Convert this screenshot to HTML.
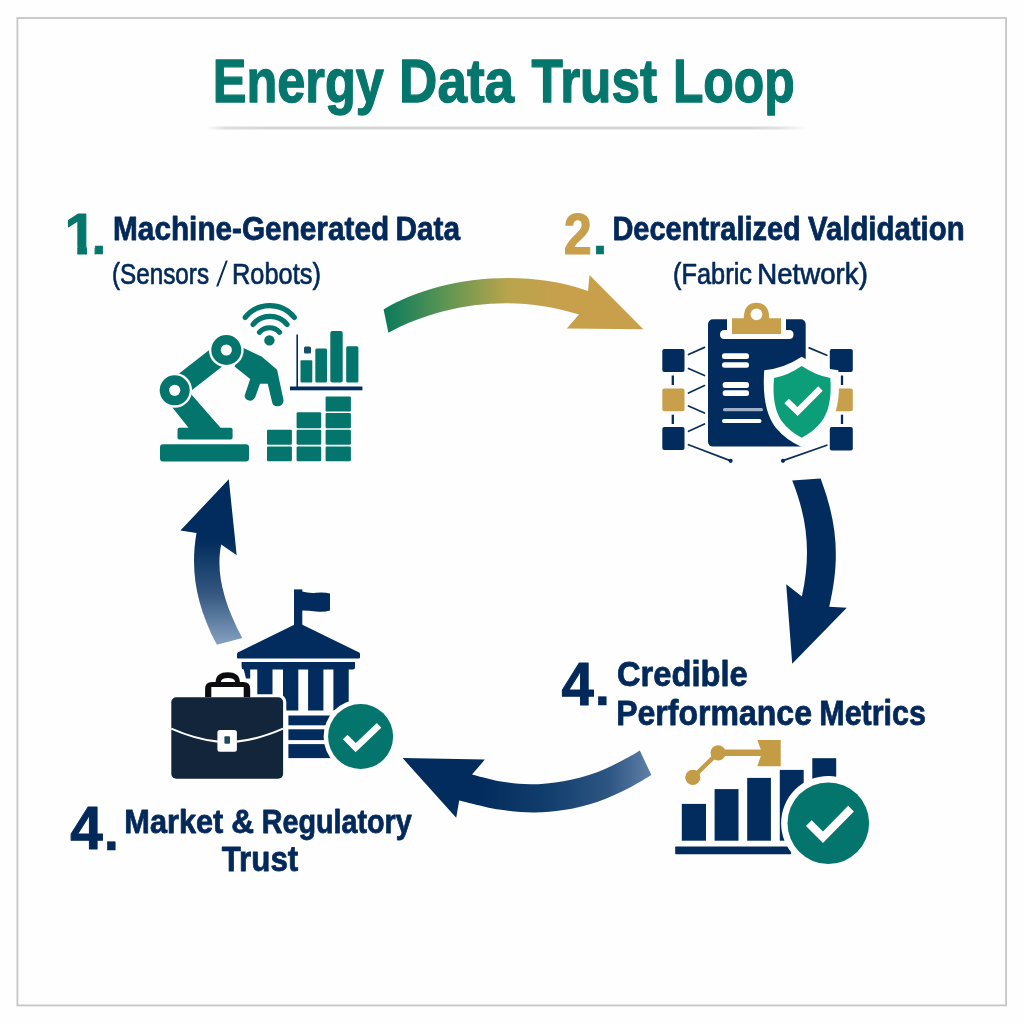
<!DOCTYPE html>
<html lang="en">
<head>
<meta charset="utf-8">
<title>Energy Data Trust Loop</title>
<style>
html,body{margin:0;padding:0;background:#fefefe;}
body{width:1024px;height:1024px;overflow:hidden;}
svg{display:block;will-change:transform;}
text{font-family:"Liberation Sans",sans-serif;}
text{stroke-linejoin:round;}
.b{font-weight:bold;stroke-width:0.8px;}
.r{stroke-width:0.7px;}
.navy{fill:#03295a;stroke:#03295a;}
.teal{fill:#05766c;stroke:#05766c;}
.gold{fill:#c8a04c;stroke:#c8a04c;}
.num{stroke-width:1.1px;}
.dot{stroke-width:0.5px;}
#title{stroke-width:1.3px;}
</style>
</head>
<body>
<svg width="1024" height="1024" viewBox="0 0 1024 1024">
<defs>
<linearGradient id="gUnder" x1="0" y1="0" x2="1" y2="0">
<stop offset="0" stop-color="#d6d6d6" stop-opacity="0"/>
<stop offset="0.03" stop-color="#d6d6d6" stop-opacity="0.8"/>
<stop offset="0.1" stop-color="#d6d6d6" stop-opacity="1"/>
<stop offset="0.9" stop-color="#d6d6d6" stop-opacity="1"/>
<stop offset="0.95" stop-color="#d6d6d6" stop-opacity="0.7"/>
<stop offset="1" stop-color="#d6d6d6" stop-opacity="0"/>
</linearGradient>
<linearGradient id="gA1" gradientUnits="userSpaceOnUse" x1="384" y1="0" x2="560" y2="0">
<stop offset="0" stop-color="#0a7a5c"/>
<stop offset="0.35" stop-color="#5d9553"/>
<stop offset="0.7" stop-color="#b8a44c"/>
<stop offset="1" stop-color="#c8a04c"/>
</linearGradient>
<linearGradient id="gA3" gradientUnits="userSpaceOnUse" x1="480" y1="0" x2="652" y2="0">
<stop offset="0" stop-color="#022c5d"/>
<stop offset="0.4" stop-color="#123e6d"/>
<stop offset="0.75" stop-color="#2e5683"/>
<stop offset="1" stop-color="#5f81a8"/>
</linearGradient>
<linearGradient id="gA4" gradientUnits="userSpaceOnUse" x1="0" y1="540" x2="0" y2="645">
<stop offset="0" stop-color="#022c5d"/>
<stop offset="0.5" stop-color="#33567f"/>
<stop offset="1" stop-color="#86a2c2"/>
</linearGradient>
</defs>

<!-- background + frame -->
<rect x="0" y="0" width="1024" height="1024" fill="#fefefe"/>
<rect x="17.4" y="18" width="988.65" height="987.4" fill="none" stroke="#c6c6c6" stroke-width="1.8"/>

<!-- title -->
<text id="title" class="b teal" y="102.2" font-size="61"><tspan x="212.74" textLength="171.06" lengthAdjust="spacingAndGlyphs">Energy</tspan> <tspan x="399.07" textLength="115.04" lengthAdjust="spacingAndGlyphs">Data</tspan> <tspan x="531.62" textLength="125.47" lengthAdjust="spacingAndGlyphs">Trust</tspan> <tspan x="672.88" textLength="121.85" lengthAdjust="spacingAndGlyphs">Loop</tspan></text>
<rect x="206.5" y="126.6" width="602" height="2.9" rx="1.4" fill="url(#gUnder)"/>

<!-- ARROWS -->
<g id="arrows">
<path id="a1" fill="url(#gA1)" d="M383.6 309.5 C430 281 515 265.5 588 291 L589.5 274.9 L643.3 329.3 L566.8 328.4 L579 314.6 C512 292.5 440 304.5 388.4 332.7 Z"/>
<path id="a2" fill="#022c5d" d="M792.2 480.4 L820.6 478.5 C838 525 840 560 829.2 606.7 L846.8 607.8 L792.2 663.7 L786.2 584.2 L801.9 596.4 C811 555 808 520 792.2 480.4 Z"/>
<path id="a3" fill="url(#gA3)" d="M639.8 750.6 C637.8 751.8 635.1 753.9 628.0 757.5 C620.9 761.1 607.8 768.2 597.1 772.2 C586.4 776.2 574.8 779.2 563.6 781.2 C552.4 783.2 540.8 784.3 530.0 784.3 C519.2 784.3 508.8 782.8 499.1 781.2 C489.4 779.6 476.5 775.7 472.0 774.6 L484.9 759.5 L402.6 758.1 L456.2 817.8 L459.2 800.4 C465.9 801.9 486.9 807.6 499.1 809.6 C511.3 811.6 521.9 812.3 532.6 812.4 C543.4 812.5 552.9 811.9 563.6 810.1 C574.4 808.4 586.4 805.5 597.1 801.9 C607.8 798.3 619.0 793.0 628.0 788.5 C637.0 784.0 647.5 777.2 651.4 775.0 Z"/>
<path id="a4" fill="url(#gA4)" d="M216.9 644.8 L242.3 637.9 C222 600 216 570 221.2 544.4 L236.7 555.2 L228.8 479.3 L180.4 530.5 L196.5 533 C190 570 196 605 216.9 644.8 Z"/>
</g>

<!-- LABELS -->
<g id="labels">
<clipPath id="c1"><path d="M55 200 H87 V262 H77.3 V246.4 H55 Z M94.7 236 H110 V262 H94.7 Z"/></clipPath>
<text class="b teal" clip-path="url(#c1)"><tspan class="num" x="64.6" y="254.1" font-size="57.5">1</tspan><tspan class="dot" x="91.5" y="254.4" font-size="54">.</tspan></text>
<text class="b navy" y="239.9" font-size="33.5"><tspan x="113.1" textLength="276" lengthAdjust="spacingAndGlyphs">Machine-Generated</tspan> <tspan x="395.4" textLength="64.58" lengthAdjust="spacingAndGlyphs">Data</tspan></text>
<text class="r navy" y="283.5" font-size="29"><tspan x="111.99" textLength="97.04" lengthAdjust="spacingAndGlyphs">(Sensors</tspan> <tspan x="214.9" y="286.9" font-size="37.5" stroke="#fefefe" stroke-width="1.2" textLength="13.9" lengthAdjust="spacingAndGlyphs">/</tspan> <tspan x="232.06" y="283.5" textLength="88.86" lengthAdjust="spacingAndGlyphs">Robots)</tspan></text>

<text class="b"><tspan class="gold num" x="563.8" y="254.1" font-size="57" textLength="28" lengthAdjust="spacingAndGlyphs">2</tspan><tspan class="teal dot" x="592.5" y="254.4" font-size="54">.</tspan></text>
<text class="b navy" y="239.9" font-size="33.5"><tspan x="612.45" textLength="188.36" lengthAdjust="spacingAndGlyphs">Decentralized</tspan> <tspan x="807.98" textLength="156.62" lengthAdjust="spacingAndGlyphs">Valdidation</tspan></text>
<text class="r navy" y="283.5" font-size="29"><tspan x="673.02" textLength="78.97" lengthAdjust="spacingAndGlyphs">(Fabric</tspan> <tspan x="757.27" textLength="110.57" lengthAdjust="spacingAndGlyphs">Network)</tspan></text>

<text class="b navy"><tspan class="num" x="561.4" y="705" font-size="62" textLength="32.3" lengthAdjust="spacingAndGlyphs">4</tspan><tspan class="dot" x="594.4" y="705.3" font-size="56">.</tspan></text>
<text class="b navy" y="686.3" font-size="35.8"><tspan x="617.03" textLength="130.68" lengthAdjust="spacingAndGlyphs">Credible</tspan></text>
<text class="b navy" y="725.3" font-size="35.8"><tspan x="616.16" textLength="195.85" lengthAdjust="spacingAndGlyphs">Performance</tspan> <tspan x="819.27" textLength="106.68" lengthAdjust="spacingAndGlyphs">Metrics</tspan></text>

<text class="b navy"><tspan class="num" x="70.3" y="849.2" font-size="62" textLength="32.5" lengthAdjust="spacingAndGlyphs">4</tspan><tspan class="dot" x="103.6" y="849.5" font-size="56">.</tspan></text>
<text class="b navy" y="832.8" font-size="33.5"><tspan x="124.34" textLength="98.91" lengthAdjust="spacingAndGlyphs">Market</tspan> <tspan x="231.19" textLength="22.8" lengthAdjust="spacingAndGlyphs">&amp;</tspan> <tspan x="261.67" textLength="150.12" lengthAdjust="spacingAndGlyphs">Regulatory</tspan></text>
<text class="b navy" y="871.3" font-size="35"><tspan x="221.75" textLength="76.43" lengthAdjust="spacingAndGlyphs">Trust</tspan></text>
</g>

<!-- ICONS -->
<g id="icon1" fill="#04756c">
<!-- robot arm -->
<rect x="160" y="444.2" width="89" height="17.4" rx="3"/>
<path d="M177.5 429.8 q0 -2 2 -2 h9 L172 407 L191 394 L220.5 427.8 h10.1 q2 0 2 2 v7.7 q0 2 -2 2 h-51.1 q-2 0 -2 -2 z"/>
<path d="M168.2 382 L219.8 341.7 L232.8 358.3 L181.2 398.6 Z"/>
<path d="M243.1 347.8 L261.9 356.8 L277.1 369.7 L283.6 400.5 Q283 406.5 277 406.3 Q272.8 406 272.2 402.5 L267.7 383.8 L260 383.8 L255.3 397 Q252.5 402 248 400.2 Q243.8 398.5 245 394.5 L250.2 379.1 L234.5 366.5 Z"/>
<circle cx="174.7" cy="390.3" r="17.4" fill="#fefefe"/>
<circle cx="174.7" cy="390.3" r="15"/>
<circle cx="174.7" cy="390.3" r="5.6" fill="#fefefe"/>
<circle cx="226.3" cy="350" r="17.4" fill="#fefefe"/>
<circle cx="226.3" cy="350" r="15"/>
<circle cx="226.3" cy="350" r="5.6" fill="#fefefe"/>
<!-- wifi -->
<circle cx="269.4" cy="340.4" r="5.2"/>
<g fill="none" stroke="#04756c" stroke-width="5.2" stroke-linecap="round">
<path d="M259.5 332.2 A13.5 13.5 0 0 1 279.5 332.2"/>
<path d="M253.1 324.4 A22 22 0 0 1 287 324.4"/>
<path d="M245.2 317.4 A31.5 31.5 0 0 1 294.3 317.4"/>
</g>
<!-- bar chart -->
<rect x="300.5" y="360.3" width="11.8" height="22.3" rx="1"/>
<rect x="304" y="346.5" width="7" height="7" rx="1.5" fill="#14506a"/>
<rect x="315.3" y="348.6" width="11.7" height="34" rx="1.5"/>
<rect x="330.3" y="331" width="12.4" height="51.6" rx="2"/>
<rect x="346.2" y="346.2" width="12.2" height="36.4" rx="1.5"/>
<rect x="296.4" y="334.5" width="1.6" height="53" fill="#022c5d"/>
<rect x="290" y="386.5" width="72.4" height="3.8" fill="#022c5d"/>
<!-- stacked blocks -->
<rect x="267" y="429.7" width="24.9" height="15" rx="1.2"/>
<rect x="267" y="446.6" width="24.9" height="14.6" rx="1.2"/>
<rect x="296.6" y="412.3" width="24.6" height="16" rx="1.2"/>
<rect x="296.6" y="429.7" width="24.6" height="15" rx="1.2"/>
<rect x="296.6" y="446.6" width="24.6" height="14.6" rx="1.2"/>
<rect x="325.6" y="396.6" width="25.3" height="14.8" rx="1.2"/>
<rect x="325.6" y="413" width="25.3" height="15.3" rx="1.2"/>
<rect x="325.6" y="429.7" width="25.3" height="15" rx="1.2"/>
<rect x="325.6" y="446.6" width="25.3" height="14.6" rx="1.2"/>
</g>
<g id="icon2">
<!-- network nodes and links -->
<g stroke="#0b2f5c" stroke-width="1.7" fill="none" stroke-linecap="round">
<path d="M688.5 354.5 L704.5 347.4"/>
<path d="M688.5 368.5 L704.5 375.5"/>
<path d="M688.5 393.1 L704.5 385.6"/>
<path d="M688.5 406 L704.5 413"/>
<path d="M688.5 431.3 L704.5 424"/>
<path d="M688.5 444.7 L730.2 460.6"/>
<path d="M809.2 347.9 L826.8 355.2"/>
<path d="M783 460.6 L826.8 445.2"/>
</g>
<circle cx="730.6" cy="460.8" r="2.1" fill="#022c5d"/>
<circle cx="783" cy="460.8" r="2.1" fill="#022c5d"/>
<g stroke="#022c5d" stroke-width="2.3" fill="none">
<path d="M672.8 375.5 V385"/>
<path d="M672.8 414.7 V424"/>
<path d="M842 375.5 V385"/>
<path d="M842 414.7 V424"/>
</g>
<rect x="662.3" y="349" width="22.2" height="23" rx="2" fill="#022c5d"/>
<rect x="662.3" y="388.4" width="22.2" height="22.8" rx="2" fill="#c8a04c"/>
<rect x="662.3" y="427.1" width="22.2" height="23" rx="2" fill="#022c5d"/>
<rect x="829.8" y="349" width="23" height="23" rx="2" fill="#022c5d"/>
<rect x="829.8" y="388.4" width="23" height="22.8" rx="2" fill="#c8a04c"/>
<rect x="829.8" y="427.1" width="23" height="23.4" rx="2" fill="#022c5d"/>
<!-- clipboard -->
<rect x="708" y="319.3" width="97.7" height="127.3" rx="5" fill="#022c5d"/>
<path d="M727 319 h59 v11 h3 q4.5 0 4.500 4.5 q0 4.500 -4.500 4.500 h-64.500 q-4.500 0 -4.500 -4.500 q0 -4.500 4.500 -4.500 h2.500 z" fill="#fefefe"/>
<path d="M743.800 318.300 q0 -15.500 12.700 -15.500 q12.700 0 12.700 15.500 h11.800 v15.700 h-49 v-15.700 z" fill="#c8a04c"/>
<circle cx="756.5" cy="314.3" r="5.900" fill="#fefefe"/>
<g fill="#fefefe">
<rect x="722" y="353.300" width="27" height="5.800" rx="2.500"/>
<rect x="722" y="362.200" width="27" height="5.600" rx="2.500"/>
<rect x="722.700" y="381.900" width="26.300" height="6" rx="2.500"/>
<rect x="722.700" y="390.300" width="26.300" height="5.700" rx="2.500"/>
<rect x="723" y="408" width="40" height="3.200" rx="1.500" fill="#9fb0c8"/>
<rect x="722" y="418.900" width="39.500" height="4.200" rx="2"/>
</g>
<!-- shield -->
<path d="M801.700 356.800 Q820 368.500 838.300 370.300 Q842 410 827 428 Q817 440 801.700 447 Q786 440 776 428 Q761.500 410 764.200 370.300 Q784 368.500 801.700 356.800 Z" fill="#fefefe"/>
<path d="M801.700 366 Q816 375.500 830.300 378 Q832.500 407 821.500 421.500 Q814 431.500 801.700 437.700 Q789.500 431.500 782 421.500 Q771.500 407 774 378 Q788 375.500 801.700 366 Z" fill="#0b9e79"/>
<path d="M786.600 401 L797.600 411.600 L820.500 388.600" fill="none" stroke="#fefefe" stroke-width="6.400"/>
</g>
<g id="icon3">
<g fill="#022c5d">
<rect x="675.2" y="846.6" width="116" height="7.6" rx="0.8"/>
<rect x="681.8" y="803.9" width="24.2" height="36.8"/>
<rect x="714.6" y="789.1" width="23.9" height="51.6"/>
<rect x="747.2" y="777.9" width="23.7" height="62.8"/>
<rect x="779.8" y="769.9" width="23.9" height="70.8"/>
<rect x="812.3" y="758.2" width="23.9" height="25"/>
</g>
<g fill="#c49c45" stroke="#c49c45">
<path d="M692.8 777.4 L718.1 752.8" stroke-width="4.4" fill="none"/>
<path d="M718.1 752.8 H764" stroke-width="6.6" fill="none"/>
<circle cx="692.8" cy="777.4" r="7.6" stroke="none"/>
<circle cx="718.1" cy="752.8" r="7.6" stroke="none"/>
<path d="M757.3 739.9 H780.7 V766.2 H757.3 L762 752.8 Z" stroke="none"/>
</g>
<circle cx="828.3" cy="823.2" r="47.2" fill="#fefefe"/>
<circle cx="828.3" cy="823.2" r="40.8" fill="#04756c"/>
<path d="M808.8 823.1 L822.9 837.2 L851 808.6" fill="none" stroke="#fefefe" stroke-width="8"/>
</g>
<g id="icon4">
<g fill="#022c5d">
<!-- flag -->
<rect x="294" y="589.4" width="8.3" height="36"/>
<path d="M302 591.5 Q309 593.5 316 592.8 Q324 592 330 593.5 V610.5 Q324 612.5 316 611.5 Q309 610.5 302 610.5 Z"/>
<!-- roof -->
<path d="M298.3 622.8 L359.2 652.5 Q360.2 653.2 360 654.5 V657.5 Q360 658.6 358.800 658.600 H238.200 Q237 658.600 237 657.500 V654.500 Q236.800 653.200 237.800 652.500 Z"/>
<path d="M241.600 662 H355 V667 Q355 669.500 352.500 669.500 H244 Q241.600 669.500 241.600 667 Z"/>
<!-- columns -->
<path d="M243.6 669 H250.2 V678.5 H246 Z"/>
<rect x="257.300" y="669" width="15.200" height="41.500"/>
<rect x="283" y="669" width="15.300" height="41.500"/>
<rect x="308.100" y="669" width="15.300" height="41.500"/>
<rect x="333.400" y="669" width="15.300" height="41.500"/>
<!-- steps -->
<rect x="288.400" y="715.500" width="44" height="9.800"/>
<rect x="288.400" y="729.300" width="44" height="10.800"/>
<rect x="288.400" y="744.100" width="44" height="14"/>
</g>
<!-- briefcase -->
<rect x="168.300" y="694.200" width="118" height="87.600" rx="8" fill="#fefefe"/>
<path d="M202 697.200 V690 Q202 679.500 212.500 679.500 H213.500 Q214.500 670 227.500 670 Q240.500 670 241.500 679.500 H242.700 Q253.200 679.500 253.200 690 V697.200 Z" fill="#fefefe"/>
<path d="M205.1 697.2 V689 Q205.1 682.1 212 682.1 H215.6 Q216 672.3 227.7 672.3 Q239.6 672.3 239.900 682.1 H243.3 Q250.2 682.1 250.2 689 V697.2 H243.7 V687.1 H211.3 V697.2 Z M220.800 682.1 Q221.2 678.1 228 678.1 Q234.800 678.1 235.2 682.1 Z" fill="#0a0c10" fill-rule="evenodd"/>
<rect x="171.300" y="697.200" width="111.800" height="81.600" rx="5" fill="#12253a"/>
<path d="M171.3 728.6 Q196 739.5 218 741.6 M236.5 741.6 Q258 739.5 283.1 728.6" fill="none" stroke="#fefefe" stroke-width="2.1"/>
<rect x="217.400" y="730" width="19.500" height="21.800" rx="2.500" fill="#fefefe"/>
<rect x="224.400" y="736.200" width="5.600" height="7.600" rx="1" fill="#1b4a5e"/>
<!-- check -->
<circle cx="360.600" cy="736.500" r="37" fill="#fefefe"/>
<circle cx="360.600" cy="736.500" r="32.500" fill="#04756c"/>
<path d="M345.200 737 L355.700 747.600 L379.100 725.300" fill="none" stroke="#fefefe" stroke-width="6.500"/>
</g>
</svg>
</body>
</html>
